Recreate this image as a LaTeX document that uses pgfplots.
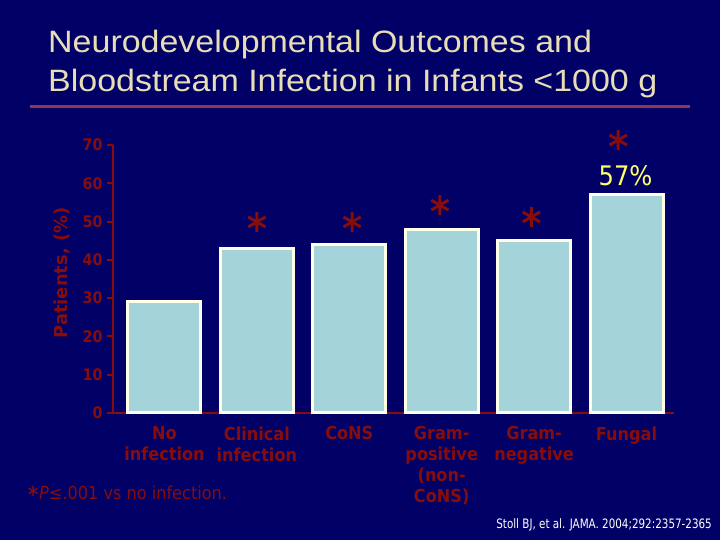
\documentclass[border=0pt]{standalone}
\usepackage{pgfplots}
\pgfplotsset{compat=1.18}
\usepackage{fontspec}
\setmainfont{Liberation Sans}
\newfontfamily\titlefont[FakeStretch=1.1]{Liberation Sans}
\newfontfamily\tah[FakeStretch=0.9]{DejaVu Sans}
\newfontfamily\tahw{DejaVu Sans}
\newfontfamily\tahn[FakeStretch=0.8]{DejaVu Sans}
\definecolor{bg}{RGB}{0,0,102}
\definecolor{mar}{RGB}{135,12,12}
\definecolor{beige}{RGB}{232,221,181}
\definecolor{rulec}{RGB}{153,51,80}
\definecolor{barfill}{RGB}{164,211,217}
\definecolor{barline}{RGB}{255,255,232}
\definecolor{yel}{RGB}{255,255,102}
\begin{document}
\begin{tikzpicture}[x=1bp,y=1bp]
\fill[bg] (0,0) rectangle (720,540);
\node[anchor=base west, inner sep=0, text=beige, font=\titlefont\fontsize{31}{36}\selectfont] at (48,487) {Neurodevelopmental Outcomes and};
\node[anchor=base west, inner sep=0, text=beige, font=\titlefont\fontsize{31}{36}\selectfont] at (48,448) {Bloodstream Infection in Infants <1000 g};
\draw[rulec, line width=3bp] (30,433) -- (690,433);
\begin{axis}[
  at={(113bp,127bp)}, anchor=south west,
  scale only axis, width=561bp, height=268bp,
  xmin=-0.557, xmax=5.514, ymin=0, ymax=70,
  clip=false,
  axis lines*=left,
  axis line style={mar, line width=2.5bp},
  ytick={0,10,...,70},
  tick align=outside,
  major tick length=6bp,
  y tick style={mar, line width=2bp},
  xtick={0,1,2,3,4,5},
  xtick style={draw=none},
  xticklabels={No\\infection, Clinical\\infection, CoNS, Gram-\\positive\\(non-\\CoNS), Gram-\\negative, Fungal},
  xticklabel style={align=center, text=mar, font=\tah\bfseries\fontsize{18}{21}\selectfont, anchor=north, yshift=-4bp},
  yticklabel style={text=mar, font=\tah\bfseries\fontsize{16}{19}\selectfont, xshift=-1bp},
  /pgf/number format/assume math mode=true,
  every axis y label/.style={at={(axis description cs:-0.091,0.522)}, rotate=90, anchor=center},
  ylabel={Patients, (\%)},
  ylabel style={text=mar, font=\tahw\bfseries\fontsize{18}{21}\selectfont},
]
\addplot[ybar, bar width=73bp, fill=barfill, draw=barline, line width=3bp]
  coordinates {(0,29) (1,43) (2,44) (3,48) (4,45) (5,57)};
\addplot[only marks, mark=asterisk, mark size=10bp, mar, line width=3bp]
  coordinates {(1,49.9) (2.03,49.9) (2.98,54.3) (3.97,51.2) (4.91,71.3)};
\node[text=yel, font=\tah\fontsize{27}{30}\selectfont, anchor=center] at (axis cs:4.99,62.1) {57\%};
\end{axis}
\node[anchor=base west, inner sep=0, text=mar, font=\tah\bfseries\fontsize{22}{24}\selectfont] at (28,37) {*};
\node[anchor=base west, inner sep=0, text=mar, font=\tah\fontsize{18}{20}\selectfont] at (39,40) {\textit{P}≤.001 vs no infection.};
\node[anchor=base east, inner sep=0, text=white, font=\tahn\fontsize{13}{15}\selectfont] at (712,11) {Stoll BJ, et al. JAMA. 2004;292:2357-2365};
\end{tikzpicture}
\end{document}
